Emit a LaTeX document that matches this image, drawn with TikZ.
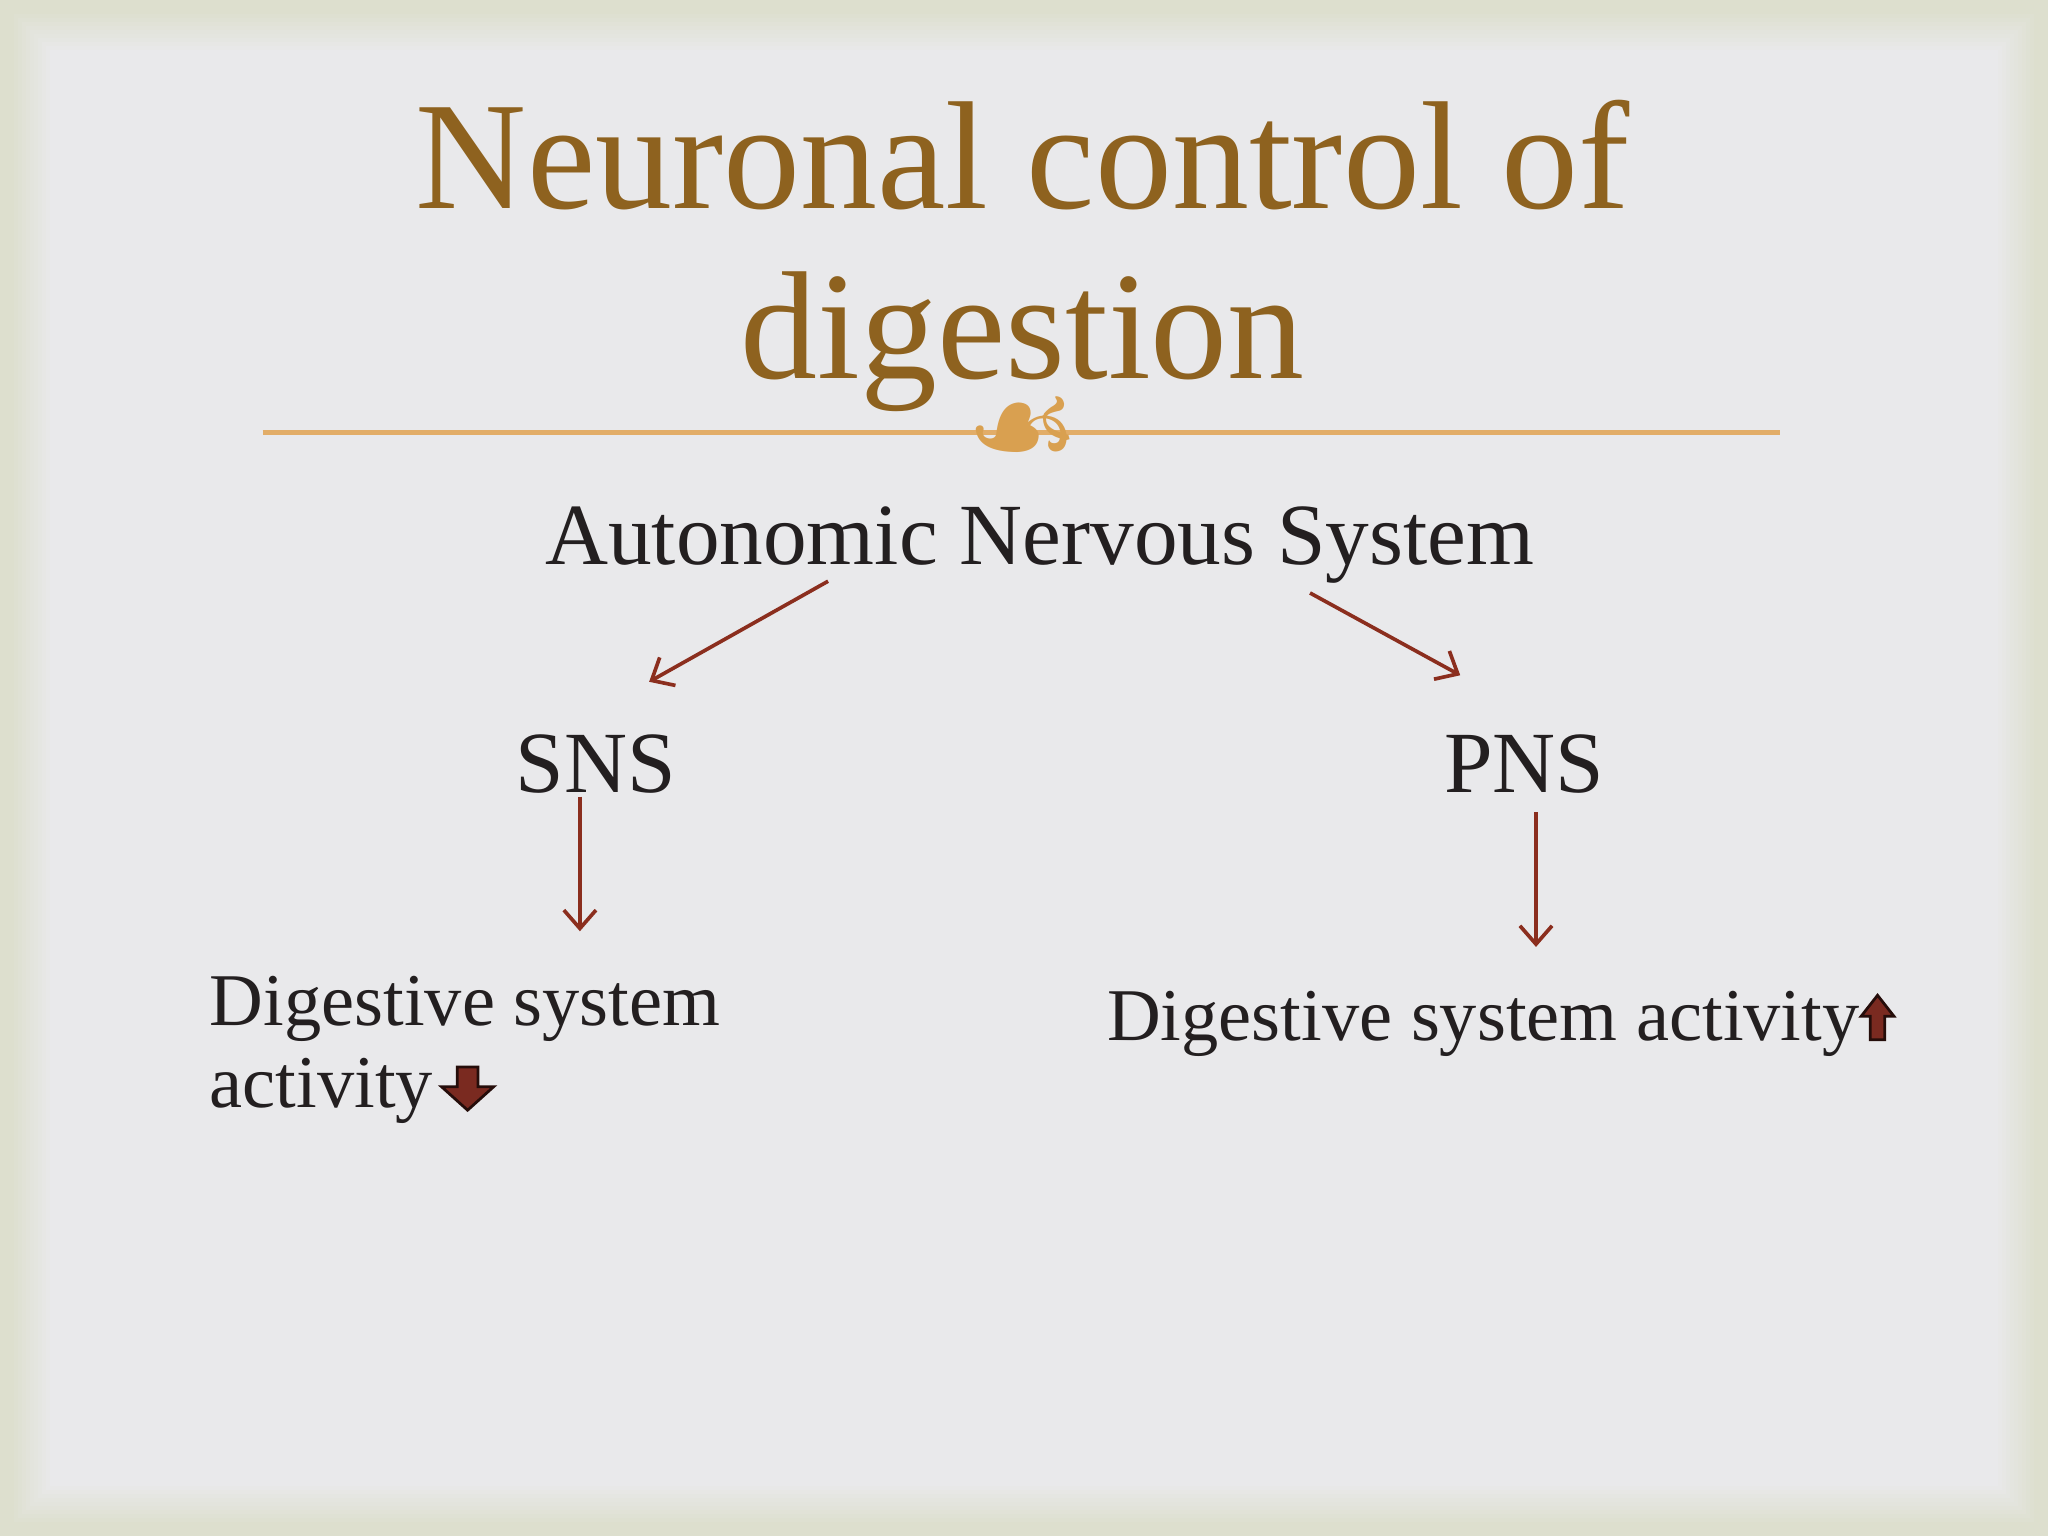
\documentclass[tikz,border=0pt]{standalone}
\usepackage{fontspec}
\setmainfont{Liberation Serif}
\newfontfamily\dejavu{DejaVu Sans}
\definecolor{titlec}{HTML}{8E621F}
\definecolor{arrc}{HTML}{8B2E1E}
\definecolor{linec}{HTML}{E2AD68}
\definecolor{orn}{HTML}{D9A050}
\definecolor{bgin}{HTML}{E9E9EB}
\definecolor{bgout}{HTML}{DDDFCE}
\definecolor{txt}{HTML}{231F20}
\definecolor{iconc}{HTML}{7A2A20}
\usetikzlibrary{arrows.meta}
\tikzset{conn/.style={->,draw=arrc,line width=0.8pt,>={Straight Barb[length=4pt,width=7pt]}},
 lbl/.style={text=txt,font=\fontsize{18}{22}\selectfont,inner sep=0pt},
 icon/.style={fill=iconc,draw=black!70!iconc,line width=0.6pt}}
\begin{document}
\begin{tikzpicture}[x=0.01cm,y=-0.01cm]
\useasboundingbox (0,0) rectangle (1568,1176);
\fill[bgout] (0,0) rectangle (1568,1176);
\foreach \i in {0,...,10}{
 \pgfmathsetmacro\p{\i*10}
 \fill[bgin!\p!bgout] (8+3*\i,8+3*\i) rectangle (1560-3*\i,1168-3*\i);}
\fill[bgin] (45,45) rectangle (1523,1131);
% title
\node[text=titlec,font=\fontsize{33.5}{40}\selectfont,anchor=base] (t1) at (783,160) {Neuronal control of};
\node[text=titlec,font=\fontsize{33.5}{40}\selectfont,anchor=base] (t2) at (783,290) {digestion};
\draw[linec,line width=1pt] (201,331) -- (1363,331);
\node[text=orn,font=\dejavu\fontsize{28}{30}\selectfont,inner sep=0pt] (orn) at (783,332) {☙};
% nodes
\node[lbl,font=\fontsize{19}{23}\selectfont,anchor=base] (ans) at (796,432) {Autonomic Nervous System};
\node[lbl,font=\fontsize{19}{23}\selectfont,anchor=base] (sns) at (456,607) {SNS};
\node[lbl,font=\fontsize{19}{23}\selectfont,anchor=base] (pns) at (1167,607) {PNS};
\node[lbl,font=\fontsize{16.2}{20}\selectfont,anchor=base west] (d1) at (160,785) {Digestive system};
\node[lbl,font=\fontsize{16.2}{20}\selectfont,anchor=base west] (d2) at (160,848) {activity};
\node[lbl,font=\fontsize{16.2}{20}\selectfont,anchor=base west] (d3) at (847,797) {Digestive system activity};
\coordinate (a1s) at (634,445); \coordinate (a1e) at (497,522);
\coordinate (a2s) at (1003,454); \coordinate (a2e) at (1118,517);
\coordinate (a3s) at (444,610); \coordinate (a3e) at (444,713);
\coordinate (a4s) at (1176,622); \coordinate (a4e) at (1176,725);
\draw[conn] (a1s) -- (a1e);
\draw[conn] (a2s) -- (a2e);
\draw[conn] (a3s) -- (a3e);
\draw[conn] (a4s) -- (a4e);
% icons
\draw[icon] (350,817) -- (366,817) -- (366,832) -- (378,832) -- (358,850) -- (338,832) -- (350,832) -- cycle;
\draw[icon] (1432,796) -- (1443,796) -- (1443,778) -- (1450,778) -- (1437.5,762) -- (1425,778) -- (1432,778) -- cycle;
\end{tikzpicture}
\end{document}
